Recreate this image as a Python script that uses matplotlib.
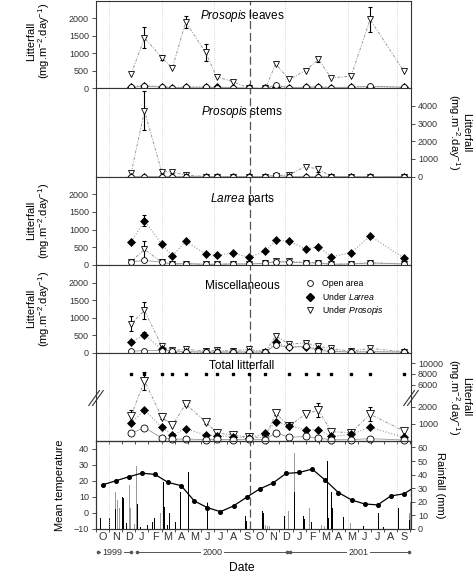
import numpy as np
import matplotlib
matplotlib.use("Agg")
import matplotlib.pyplot as plt
from matplotlib.lines import Line2D

plt.rcParams['font.family'] = ['Liberation Sans', 'DejaVu Sans']
plt.rcParams['mathtext.fontset'] = 'custom'
plt.rcParams['mathtext.rm'] = 'Liberation Sans'
plt.rcParams['mathtext.it'] = 'Liberation Sans:italic'
plt.rcParams['axes.edgecolor'] = '#333333'
plt.rcParams['axes.linewidth'] = 0.8
plt.rcParams['xtick.color'] = '#333333'
plt.rcParams['ytick.color'] = '#333333'

# x axis in months, 0 = October 1999 (month centre)
month_labels = ['O', 'N', 'D', 'J', 'F', 'M', 'A', 'M', 'J', 'J', 'A', 'S',
                'O', 'N', 'D', 'J', 'F', 'M', 'A', 'M', 'J', 'J', 'A', 'S']
sample_x = [2.18, 3.20, 4.51, 5.33, 6.34, 7.86, 8.70, 9.94, 11.19, 12.43,
            13.21, 14.23, 15.49, 16.48, 17.45, 18.97, 20.42, 23.00]

# Prosopis leaves
leaves_open = [30, 60, 40, 20, 30, 30, 20, 20, 0, 0, 90, 20, 30, 40, 20, 30, 60, 30]
leaves_larrea = [50, 80, 50, 20, 40, 40, 30, 20, 0, 0, 50, 20, 30, 50, 20, 30, 50, 30]
leaves_pros = [400, 1450, 880, 580, 1900, 1030, 330, 190, 0, 0, 700, 257, 503, 828, 294, 351, 1971, 486]
leaves_pros_err = [0, 300, 60, 0, 180, 250, 0, 0, 0, 0, 0, 0, 0, 80, 0, 0, 360, 0]

# Prosopis stems
stems_open = [0, 0, 0, 0, 0, 0, 0, 0, 0, 0, 60, 0, 0, 0, 0, 0, 0, 0]
stems_larrea = [0, 0, 0, 0, 0, 0, 0, 0, 0, 0, 0, 0, 0, 0, 0, 0, 0, 0]
stems_pros = [190, 3720, 280, 250, 80, 0, 0, 0, 0, 0, 50, 100, 566, 420, 0, 0, 0, 0]
stems_pros_err = [0, 1100, 100, 60, 0, 0, 0, 0, 0, 0, 0, 0, 0, 180, 0, 0, 0, 0]

# Larrea parts
parts_open = [90, 130, 80, 30, 40, 20, 20, 30, 30, 50, 90, 80, 60, 60, 20, 30, 60, 30]
parts_larrea = [657, 1250, 590, 253, 676, 310, 272, 338, 216, 394, 694, 676, 450, 516, 235, 347, 817, 197]
parts_larrea_err = [0, 150, 0, 0, 0, 0, 0, 0, 0, 0, 0, 0, 0, 0, 0, 0, 0, 0]
parts_pros = [94, 442, 80, 30, 40, 20, 20, 30, 30, 50, 100, 100, 70, 60, 20, 30, 60, 30]
parts_pros_err = [0, 240, 0, 0, 0, 0, 0, 0, 0, 0, 0, 0, 0, 0, 0, 0, 0, 0]

# Miscellaneous
misc_open = [40, 60, 60, 50, 30, 20, 20, 20, 20, 20, 220, 150, 190, 60, 40, 20, 30, 20]
misc_larrea = [291, 517, 100, 30, 20, 10, 20, 20, 20, 20, 291, 150, 170, 110, 60, 20, 30, 20]
misc_larrea_err = [0, 60, 0, 0, 0, 0, 0, 0, 0, 0, 0, 0, 0, 0, 0, 0, 0, 0]
misc_pros = [828, 1203, 190, 66, 94, 50, 66, 50, 94, 30, 479, 244, 282, 179, 122, 40, 122, 30]
misc_pros_err = [220, 250, 0, 0, 0, 0, 0, 0, 0, 0, 0, 0, 0, 0, 0, 0, 0, 0]

# Total litterfall
total_open = [433, 765, 170, 80, 100, 60, 80, 60, 80, 60, 470, 200, 250, 150, 60, 60, 120, 40]
total_larrea = [1040, 1806, 788, 335, 706, 335, 300, 230, 170, 433, 1118, 865, 647, 647, 250, 372, 788, 200]
total_pros = [1470, 6700, 1400, 900, 2150, 1118, 470, 335, 200, 200, 1612, 865, 1553, 1806, 530, 470, 1550, 570]
total_pros_err = [330, 1700, 150, 0, 100, 150, 0, 0, 0, 0, 100, 0, 0, 400, 0, 0, 400, 0]
signif = [1, 1, 1, 1, 1, 1, 1, 1, 1, 1, 0, 1, 1, 1, 1, 1, 1, 1]
signif_level = 8000

# Mean monthly temperature
temp_x = list(range(25))
temp = [17.5, 20, 22.5, 24.8, 24, 19, 17, 7.5, 3.3, 0.8, 4.4, 9.8, 15, 18.6,
        24.6, 25.2, 27.3, 20.4, 12.7, 8.1, 5.6, 5, 10.6, 11.9, 17]

# daily rainfall (two gauges)
rain_dark_x = [-0.43, -0.13, 0.5, 1.01, 1.52, 1.57, 1.85, 2.66, 2.91, 3.42, 3.8, 3.98,
               4.64, 4.74, 4.94, 5.14, 5.58, 5.96, 6.59, 7.99, 8.04, 10.9, 10.98,
               12.18, 12.25, 13.9, 14.0, 14.64, 15.34, 15.42, 15.98, 16.29, 17.17,
               17.27, 17.45, 17.55, 18.39, 19.91, 21.05, 21.43, 22.57, 23.45]
rain_dark = [8.4, 7.9, 8.4, 14.8, 23.9, 22.6, 4.2, 18.2, 1.7, 3, 5.4, 7.9,
             34.5, 16.5, 3, 11.6, 5.4, 27.5, 42.3, 19, 15.3, 9.8, 6,
             13.5, 11.6, 9.6, 10.3, 27.5, 9.6, 7.4, 5.4, 6.6, 49.7,
             7.9, 27.5, 15.3, 9.1, 2.2, 11.6, 1.2, 15.3, 6.6]
rain_gray_x = [1.01, 1.14, 1.27, 2.03, 2.15, 2.41, 2.61, 4.39, 5.14, 7.99, 12.43, 12.56,
               12.76, 14.16, 14.64, 15.8, 16.74, 16.92, 18.9, 19.91, 23.41, 23.52]
rain_gray = [27.1, 21.4, 15.3, 32.5, 15.3, 3.7, 46.7, 11.6, 11.6, 20, 3, 2.2,
             2.2, 13.3, 56.3, 15.3, 3, 2.2, 4.2, 2.2, 11.6, 20.2]

years = ['1999', '2000', '2001']
year_start = [-0.36, 2.66, 14.33]
year_end = [2.15, 14.08, 23.41]
year_mid = [0.76, 8.37, 19.53]

grid_x = [0.5, 4.5, 8.5, 13.9, 18.7, 22.5]
season_split = 11.29

ylab = 'Litterfall\n(mg.m$^{-2}$.day$^{-1}$)'
W, H = 474, 573
fig = plt.figure(figsize=(W / 100, H / 100), dpi=100)

edges = [1, 88.3, 176.5, 265, 352.7, 440.7, 529]
axes = []
for i in range(6):
    ax = fig.add_axes([96 / W, 1 - edges[i + 1] / H, 315 / W, (edges[i + 1] - edges[i]) / H])
    axes.append(ax)
ax1, ax2, ax3, ax4, ax5, ax6 = axes

LINE = '#9a9a9a'


def draw(ax, y_open, y_lar, y_pro, e_lar=None, e_pro=None, big=False):
    k = 1.2 if big else 1.0
    x = np.array(sample_x)
    for y, e in ((y_pro, e_pro), (y_lar, e_lar)):
        if e is not None:
            e = np.array(e)
            m = e > 0
            ax.errorbar(x[m], np.array(y)[m], yerr=e[m], fmt='none', ecolor='black',
                        elinewidth=0.8, capsize=1.5, capthick=0.8, zorder=2, clip_on=False)
    ax.plot(x, y_pro, ls=(0, (3, 1.5, 1, 1.5)), color=LINE, lw=0.7, marker='v', ms=4.6 * k,
            mfc='white', mec='black', mew=0.6, zorder=3, clip_on=False)
    ax.plot(x, y_lar, ls=':', color=LINE, lw=0.8, marker='D', ms=3.8 * k,
            mfc='black', mec='black', mew=0.5, zorder=4, clip_on=False)
    ax.plot(x, y_open, ls='-', color=LINE, lw=0.6, marker='o', ms=4.2 * k,
            mfc='white', mec='black', mew=0.6, zorder=5, clip_on=False)


draw(ax1, leaves_open, leaves_larrea, leaves_pros, e_pro=leaves_pros_err)
draw(ax2, stems_open, stems_larrea, stems_pros, e_pro=stems_pros_err)
draw(ax3, parts_open, parts_larrea, parts_pros, e_lar=parts_larrea_err, e_pro=parts_pros_err)
draw(ax4, misc_open, misc_larrea, misc_pros, e_lar=misc_larrea_err, e_pro=misc_pros_err)

# broken axis for the total panel
b_in = [-1e5, 0, 2500, 5000, 1e6]
b_out = [-1e5, 0, 2500, 2979, 2979 + 995000 * 0.315]
ax5.set_yscale('function', functions=(lambda v: np.interp(v, b_in, b_out),
                                      lambda v: np.interp(v, b_out, b_in)))
draw(ax5, total_open, total_larrea, total_pros, e_pro=total_pros_err, big=True)
sx = [x for x, s in zip(sample_x, signif) if s]
ax5.plot(sx, [signif_level] * len(sx), ls='none', marker='s', ms=1.6, color='black', zorder=5)

# temperature and rainfall
ax6r = ax6.twinx()
ax6r.bar(rain_gray_x, rain_gray, width=0.07, color='#9a9a9a', lw=0)
ax6r.bar(rain_dark_x, rain_dark, width=0.07, color='black', lw=0)
ax6.plot(temp_x, temp, color='black', lw=0.9, marker='o', ms=2.6, zorder=5)
ax6.set_zorder(ax6r.get_zorder() + 1)
ax6.patch.set_visible(False)

for ax in axes:
    ax.set_xlim(-0.43, 23.54)
    ax.set_xticks(np.arange(-0.5, 24, 1))
    ax.set_xticklabels([])
    ax.tick_params(axis='x', direction='out', length=2.5, width=0.6)
    ax.tick_params(axis='y', direction='out', length=3, width=0.6, labelsize=6.5, pad=2)
    ax.axvline(season_split, color='#555555', lw=0.9, ls=(0, (6.5, 3)), zorder=1)
    for g in grid_x:
        ax.axvline(g, color='#c8c8c8', lw=0.6, ls=':', zorder=0)

ax1.text(0.4635, 0.83, '$\\it{Prosopis}$ leaves', transform=ax1.transAxes, ha='center', va='center', fontsize=8.5)
ax2.text(0.4635, 0.735, '$\\it{Prosopis}$ stems', transform=ax2.transAxes, ha='center', va='center', fontsize=8.5)
ax3.text(0.4635, 0.746, '$\\it{Larrea}$ parts', transform=ax3.transAxes, ha='center', va='center', fontsize=8.5)
ax4.text(0.4635, 0.764, 'Miscellaneous', transform=ax4.transAxes, ha='center', va='center', fontsize=8.5)
ax5.text(0.4635, 0.852, 'Total litterfall', transform=ax5.transAxes, ha='center', va='center', fontsize=8.5)

for ax, yc in ((ax1, 0.54), (ax3, 0.5), (ax4, 0.5)):
    ax.set_ylim(0, 2500)
    ax.set_yticks([0, 500, 1000, 1500, 2000])
    ax.set_ylabel(ylab, fontsize=8, linespacing=1.0)
    ax.yaxis.set_label_coords(-0.14, yc)

ax2.set_ylim(0, 5000)
ax2.yaxis.tick_right()
ax2.set_yticks([0, 1000, 2000, 3000, 4000])
ax2.yaxis.set_label_position('right')
ax2.set_ylabel(ylab, fontsize=8, rotation=270, va='bottom', linespacing=1.0)
ax2.yaxis.set_label_coords(1.11, 0.5)

ax5.set_ylim(0, 11950)
ax5.yaxis.tick_right()
ax5.set_yticks([1000, 2000, 6000, 8000, 10000])
ax5.set_yticks([], minor=True)
ax5.yaxis.set_label_position('right')
ax5.set_ylabel(ylab, fontsize=8, rotation=270, va='bottom', linespacing=1.0)
ax5.yaxis.set_label_coords(1.11, 0.5)
# break marks
for xb in (0.0, 1.0):
    for dx in (-0.006, 0.006):
        ax5.plot([xb + dx - 0.017, xb + dx + 0.017], [0.4, 0.57], transform=ax5.transAxes,
                 color='#333333', lw=0.8, clip_on=False, zorder=6)

ax6.set_ylim(-10, 45)
ax6.set_yticks([-10, 0, 10, 20, 30, 40])
ax6.set_ylabel('Mean temperature', fontsize=8)
ax6.yaxis.set_label_coords(-0.098, 0.5)
ax6r.set_ylim(0, 65)
ax6r.set_yticks([0, 10, 20, 30, 40, 50, 60])
ax6r.tick_params(axis='y', direction='out', length=3, width=0.6, labelsize=6.5, pad=2)
ax6r.set_ylabel('Rainfall (mm)', fontsize=8, rotation=270, va='bottom')
ax6r.yaxis.set_label_coords(1.076, 0.5)
ax6.set_xticks(range(24), minor=True)
ax6.set_xticklabels(month_labels, minor=True, fontsize=7.8)
ax6.tick_params(axis='x', which='minor', length=0, pad=2)

tr = ax6.get_xaxis_transform()
yb = -0.264
for name, a, b, c in zip(years, year_start, year_end, year_mid):
    ax6.plot([a, b], [yb, yb], color='#555555', lw=0.7, transform=tr, clip_on=False,
             marker='o', ms=1.6, markevery=[0, 1])
    ax6.text(c, yb, name, transform=tr, ha='center', va='center', fontsize=6.5, color='#333333',
             bbox=dict(facecolor='white', edgecolor='none', pad=1.2))

fig.text(242 / W, 1 - 568 / H, 'Date', ha='center', va='center', fontsize=8.7)

handles = [Line2D([], [], ls='none', marker='o', ms=4.2, mfc='white', mec='black', mew=0.6),
           Line2D([], [], ls='none', marker='D', ms=3.8, mfc='black', mec='black'),
           Line2D([], [], ls='none', marker='v', ms=4.6, mfc='white', mec='black', mew=0.6)]
ax4.legend(handles, ['Open area', 'Under $\\it{Larrea}$', 'Under $\\it{Prosopis}$'],
           loc='upper left', bbox_to_anchor=(0.645, 0.91), frameon=False, fontsize=6.3,
           handlelength=1.0, handletextpad=0.9, labelspacing=0.3, borderpad=0.2)

fig.savefig('out.png', dpi=100)
